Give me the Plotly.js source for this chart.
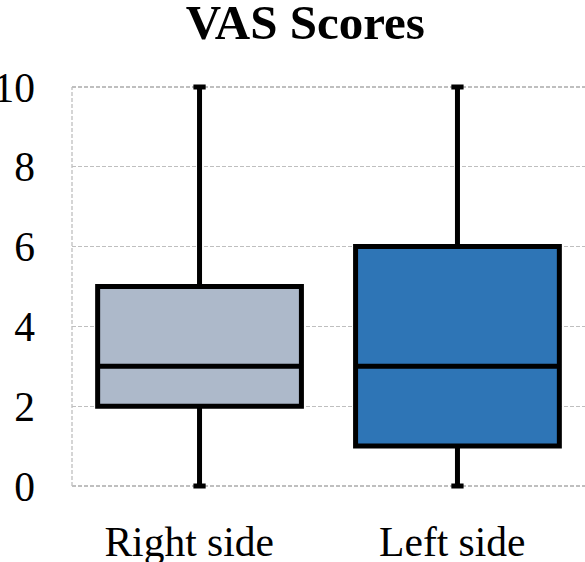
<!DOCTYPE html>
<html>
<head>
<meta charset="utf-8">
<script src="https://cdn.plot.ly/plotly-3.0.1.min.js"></script>
<style>
  html, body { margin: 0; padding: 0; background: #fff; }
  #graph { width: 585px; height: 562px; }
</style>
</head>
<body>
<div id="graph"></div>
<script>
// categories and five-number summaries
var sides = ['Right side', 'Left side'];
var mins = [0, 0];
var q1s = [2, 1];
var medians = [3, 3];
var q3s = [5, 6];
var maxs = [10, 10];
var fills = ['#adb9ca', '#2e75b6'];
var yTicks = [0, 2, 4, 6, 8, 10];

var graph = document.getElementById('graph');
var serif = "'Liberation Serif', 'Times New Roman', serif";

var traces = [];
for (var i = 0; i < sides.length; i++) {
  traces.push({
    type: 'box',
    x: [sides[i]],
    lowerfence: [mins[i]],
    q1: [q1s[i]],
    median: [medians[i]],
    q3: [q3s[i]],
    upperfence: [maxs[i]],
    width: 0.79,
    fillcolor: fills[i],
    line: { color: '#000', width: 5 },
    whiskerwidth: 0.06,
    boxpoints: false,
    hoverinfo: 'skip',
    showlegend: false
  });
}

// labels sit a little left of the box centres in the reference
var pads = ['\u00a0\u00a0', '\u00a0'];

var layout = {
  width: 585,
  height: 562,
  margin: { l: 72, r: 0, t: 81, b: 70 },
  paper_bgcolor: '#fff',
  plot_bgcolor: '#fff',
  font: { family: serif, color: '#000' },
  title: {
    text: '<b>VAS Scores</b>',
    font: { family: serif, size: 49, color: '#000' },
    x: 0.522,
    xanchor: 'center',
    y: 1 - 22 / 562,
    yanchor: 'middle',
    yref: 'container'
  },
  xaxis: {
    type: 'category',
    categoryorder: 'array',
    categoryarray: sides,
    tickvals: sides,
    ticktext: sides.map(function (s, k) { return s + pads[k]; }),
    showgrid: false,
    zeroline: false,
    showline: false,
    ticks: '',
    ticklabelstandoff: 21,
    tickfont: { family: serif, size: 41.5, color: '#000' }
  },
  yaxis: {
    range: [-0.15, 10.15],
    tickvals: yTicks,
    ticktext: yTicks.map(String),
    showgrid: true,
    gridcolor: '#bfbfbf',
    gridwidth: 1.3,
    griddash: '4px,2px',
    zeroline: false,
    showline: false,
    ticks: '',
    ticklabelstandoff: 36,
    tickfont: { family: serif, size: 41.5, color: '#000' }
  },
  shapes: [{
    type: 'line',
    xref: 'paper', yref: 'y',
    x0: 0, x1: 0, y0: 0, y1: 10,
    line: { color: '#bfbfbf', width: 1.3, dash: '4px,2px' },
    layer: 'below'
  }]
};

Plotly.newPlot(graph, traces, layout, { staticPlot: true, displayModeBar: false });
</script>
</body>
</html>
